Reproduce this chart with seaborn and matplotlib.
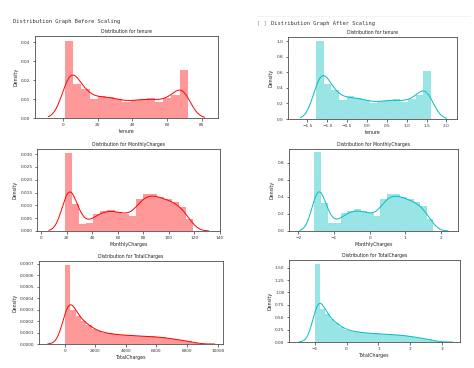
import numpy as np
import pandas as pd
import matplotlib
matplotlib.use("Agg")
import matplotlib.pyplot as plt
import seaborn as sns
from matplotlib.lines import Line2D

# bar heights (density), equal-width bins
tenure_range = (1, 72)
tenure_before = [0.0405, 0.0182, 0.0151, 0.0100, 0.0118, 0.0110, 0.0099, 0.0086,
                 0.0094, 0.0098, 0.0105, 0.0087, 0.0104, 0.0124, 0.0254]
tenure_scaled_range = (-1.28, 1.61)
tenure_after = [1.00, 0.45, 0.37, 0.25, 0.29, 0.27, 0.245, 0.21,
                0.23, 0.24, 0.258, 0.215, 0.255, 0.305, 0.623]

monthly_range = (18.25, 118.75)
monthly_before = [0.0304, 0.0106, 0.0029, 0.0032, 0.0067, 0.0077, 0.0082, 0.0075,
                  0.0068, 0.0059, 0.0123, 0.0143, 0.0143, 0.0131, 0.0123, 0.0112,
                  0.0095, 0.0048]
monthly_scaled_range = (-1.55, 1.79)
monthly_after = [0.922, 0.328, 0.094, 0.097, 0.206, 0.238, 0.254, 0.234,
                 0.207, 0.178, 0.378, 0.435, 0.433, 0.398, 0.373, 0.335,
                 0.288, 0.145]

total_range = (18.8, 8684.8)
total_before = [0.00069, 0.000295, 0.000245, 0.000205, 0.000167, 0.000134, 0.00011,
                0.0001, 0.000092, 0.000086, 0.000082, 0.000079, 0.000076, 0.000073,
                0.00007, 0.000068, 0.000066, 0.000063, 0.000058, 0.000052, 0.000045,
                0.000038, 0.00003, 0.000023, 0.000013]
total_scaled_range = (-0.99, 2.82)
total_after = [1.565, 0.67, 0.555, 0.465, 0.378, 0.304, 0.25, 0.227, 0.209, 0.195,
               0.186, 0.179, 0.172, 0.165, 0.159, 0.154, 0.149, 0.143, 0.131, 0.118,
               0.102, 0.086, 0.068, 0.052, 0.03]

columns = ["tenure", "MonthlyCharges", "TotalCharges"]
kde_bw = [0.19, 0.17, 0.17]

# axis limits / ticks as shown in the screenshot
xlims_before = [(-16.3, 89.4), (-3.4, 140.0), (-1685, 10350)]
ylims_before = [0.0433, 0.0320, 0.000726]
xticks_before = [np.arange(0, 81, 20), np.arange(0, 141, 20), np.arange(0, 10001, 2000)]
yticks_before = [np.arange(0, 0.041, 0.01), np.arange(0, 0.031, 0.005), np.arange(0, 0.00071, 0.0001)]
yfmt_before = ["{:.2f}", "{:.3f}", "{:.4f}"]

xlims_after = [(-1.985, 2.266), (-2.26, 2.48), (-1.80, 3.55)]
ylims_after = [1.056, 0.961, 1.654]
xticks_after = [np.arange(-1.5, 2.01, 0.5), np.arange(-2, 2.1, 1), np.arange(-1, 3.1, 1)]
yticks_after = [np.arange(0, 1.01, 0.2), np.arange(0, 0.81, 0.2), np.arange(0, 1.51, 0.25)]
yfmt_after = ["{:.1f}", "{:.1f}", "{:.2f}"]

W, H = 474, 368

sns.set_style("ticks")
plt.rcParams['font.family'] = ['DejaVu Sans']
plt.rcParams['axes.edgecolor'] = '#4d4d4d'
plt.rcParams['axes.linewidth'] = 0.6


def px_axes(fig, x0, y0, x1, y1):
    return fig.add_axes([x0 / W, 1 - y1 / H, (x1 - x0) / W, (y1 - y0) / H])


def dist_panel(ax, rng, heights, color, col, bw, xlim, ytop, xticks, yticks, yfmt):
    edges = np.linspace(rng[0], rng[1], len(heights) + 1)
    df = pd.DataFrame({"value": (edges[:-1] + edges[1:]) / 2, "h": heights})
    sns.histplot(data=df, x="value", weights="h", bins=list(edges), stat="count",
                 color=color, alpha=0.4, linewidth=0, ax=ax)
    sns.kdeplot(data=df, x="value", weights="h", bw_method=bw, cut=3, color=color,
                linewidth=0.7, ax=ax)
    ax.set_xlim(*xlim)
    ax.set_ylim(0, ytop)
    ax.set_xticks(xticks)
    ax.set_yticks(yticks)
    ax.set_yticklabels([yfmt.format(v) for v in yticks])
    ax.tick_params(labelsize=3.1, length=1.8, width=0.5, pad=1.5, colors='#333333')
    ax.set_title("Distribution for " + col, fontsize=3.3, pad=2.5, color='#222222')
    ax.set_xlabel(col, fontsize=3.4, labelpad=2, color='#222222')
    ax.set_ylabel("Density", fontsize=3.4, labelpad=2, color='#222222')


fig = plt.figure(figsize=(W / 100, H / 100), dpi=100)

left_boxes = [(35, 36, 218, 118), (37, 149, 220, 231), (39, 261, 223, 344)]
right_boxes = [(288, 37, 457, 119), (289, 149, 458, 231), (289, 260, 460, 342)]

before = [(tenure_range, tenure_before), (monthly_range, monthly_before), (total_range, total_before)]
after = [(tenure_scaled_range, tenure_after), (monthly_scaled_range, monthly_after),
         (total_scaled_range, total_after)]

for i, col in enumerate(columns):
    ax = px_axes(fig, *left_boxes[i])
    dist_panel(ax, before[i][0], before[i][1], 'r', col, kde_bw[i], xlims_before[i],
               ylims_before[i], xticks_before[i], yticks_before[i], yfmt_before[i])
    ax = px_axes(fig, *right_boxes[i])
    dist_panel(ax, after[i][0], after[i][1], 'c', col, kde_bw[i], xlims_after[i],
               ylims_after[i], xticks_after[i], yticks_after[i], yfmt_after[i])

# notebook output headers
fig.text(13 / W, 1 - 22 / H, "Distribution Graph Before Scaling", family="DejaVu Sans Mono",
         fontsize=3.9, color='#333333', va='center')
fig.text(257 / W, 1 - 23 / H, "[ ]", family="DejaVu Sans Mono",
         fontsize=3.9, color='#888888', va='center')
fig.text(271 / W, 1 - 23 / H, "Distribution Graph After Scaling", family="DejaVu Sans Mono",
         fontsize=3.9, color='#333333', va='center')
fig.add_artist(Line2D([257 / W, 470 / W], [1 - 16 / H, 1 - 16 / H], color='#eeeeee', lw=0.5))

fig.savefig("out.png", dpi=100)
